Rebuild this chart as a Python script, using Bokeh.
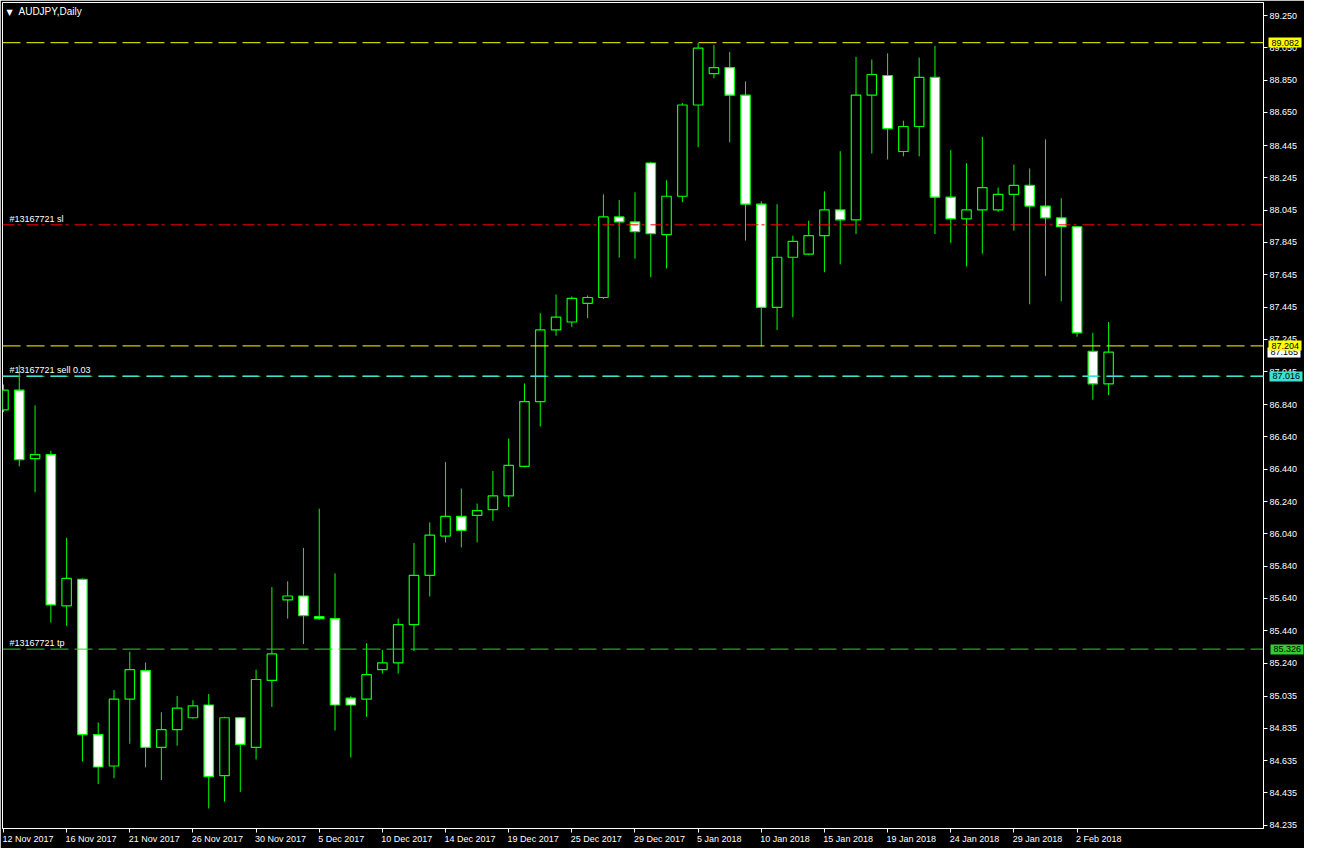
from bokeh.plotting import figure
from bokeh.models import (Range1d, FixedTicker, Label, Span, ColumnDataSource,
                          PrintfTickFormatter, LinearAxis)
from bokeh.embed import file_html
from bokeh.resources import INLINE

symbol_title = "AUDJPY,Daily"

dates = [
    "12 Nov 2017", "13 Nov 2017", "14 Nov 2017", "15 Nov 2017", "16 Nov 2017", "17 Nov 2017",
    "19 Nov 2017", "20 Nov 2017", "21 Nov 2017", "22 Nov 2017", "23 Nov 2017", "24 Nov 2017",
    "26 Nov 2017", "27 Nov 2017", "28 Nov 2017", "29 Nov 2017", "30 Nov 2017", "1 Dec 2017",
    "3 Dec 2017", "4 Dec 2017", "5 Dec 2017", "6 Dec 2017", "7 Dec 2017", "8 Dec 2017",
    "10 Dec 2017", "11 Dec 2017", "12 Dec 2017", "13 Dec 2017", "14 Dec 2017", "15 Dec 2017",
    "17 Dec 2017", "18 Dec 2017", "19 Dec 2017", "20 Dec 2017", "21 Dec 2017", "22 Dec 2017",
    "25 Dec 2017", "26 Dec 2017", "27 Dec 2017", "28 Dec 2017", "29 Dec 2017",
    "2 Jan 2018", "3 Jan 2018", "4 Jan 2018", "5 Jan 2018",
    "7 Jan 2018", "8 Jan 2018", "9 Jan 2018", "10 Jan 2018", "11 Jan 2018", "12 Jan 2018",
    "14 Jan 2018", "15 Jan 2018", "16 Jan 2018", "17 Jan 2018", "18 Jan 2018", "19 Jan 2018",
    "21 Jan 2018", "22 Jan 2018", "23 Jan 2018", "24 Jan 2018", "25 Jan 2018", "26 Jan 2018",
    "28 Jan 2018", "29 Jan 2018", "30 Jan 2018", "31 Jan 2018", "1 Feb 2018", "2 Feb 2018",
    "4 Feb 2018", "5 Feb 2018",
]

opens = [86.808, 86.930, 86.506, 86.531, 85.594, 85.758, 84.797, 84.602, 85.016, 85.193,
         84.718, 84.828, 84.901, 84.980, 84.542, 84.901, 84.718, 85.132, 85.631, 85.655,
         85.527, 85.515, 85.022, 85.016, 85.199, 85.241, 85.478, 85.783, 86.026, 86.148,
         86.154, 86.190, 86.275, 86.458, 86.859, 87.303, 87.352, 87.468, 87.504, 88.003,
         87.972, 88.337, 87.893, 88.131, 88.696, 88.891, 88.928, 88.757, 88.082, 87.443,
         87.753, 87.772, 87.887, 88.046, 87.985, 88.757, 88.879, 88.408, 88.563, 88.867,
         88.125, 87.991, 88.046, 88.046, 88.143, 88.198, 88.070, 87.997, 87.942, 87.170,
         86.969]
highs = [86.965, 87.086, 86.835, 86.555, 86.016, 85.764, 84.872, 85.073, 85.310, 85.243,
         84.935, 85.036, 85.010, 85.048, 84.907, 84.905, 85.199, 85.710, 85.746, 85.953,
         86.196, 85.795, 85.034, 85.363, 85.320, 85.515, 85.983, 86.111, 86.484, 86.320,
         86.228, 86.429, 86.630, 86.971, 87.407, 87.522, 87.510, 87.516, 88.143, 88.108,
         88.155, 88.344, 88.230, 88.709, 89.080, 89.067, 89.025, 88.842, 88.100, 88.082,
         87.887, 87.979, 88.161, 88.410, 88.994, 88.978, 89.016, 88.599, 88.990, 89.063,
         88.417, 88.335, 88.499, 88.185, 88.327, 88.303, 88.483, 88.119, 87.948, 87.285,
         87.352]
lows = [86.794, 86.458, 86.297, 85.491, 85.470, 84.630, 84.491, 84.527, 84.740, 84.594,
        84.515, 84.728, 84.895, 84.339, 84.381, 84.442, 84.643, 84.968, 85.515, 85.357,
        85.507, 84.822, 84.655, 84.907, 85.175, 85.175, 85.314, 85.652, 85.987, 85.956,
        85.987, 86.121, 86.206, 86.452, 86.705, 87.267, 87.322, 87.376, 87.495, 87.751,
        87.745, 87.629, 87.684, 88.094, 88.435, 88.861, 88.465, 87.857, 87.200, 87.303,
        87.382, 87.766, 87.660, 87.709, 87.897, 88.396, 88.359, 88.378, 88.378, 87.897,
        87.842, 87.696, 87.775, 88.034, 87.918, 87.462, 87.638, 87.480, 87.261, 86.871,
        86.899]
closes = [86.930, 86.500, 86.531, 85.600, 85.764, 84.797, 84.596, 85.016, 85.199, 84.718,
          84.828, 84.961, 84.974, 84.536, 84.901, 84.736, 85.138, 85.296, 85.655, 85.533,
          85.515, 84.980, 84.980, 85.168, 85.241, 85.478, 85.783, 86.032, 86.148, 86.062,
          86.184, 86.275, 86.464, 86.859, 87.303, 87.382, 87.498, 87.504, 88.003, 87.972,
          87.912, 87.900, 88.131, 88.696, 89.049, 88.928, 88.757, 88.082, 87.443, 87.753,
          87.851, 87.887, 88.046, 87.985, 88.757, 88.885, 88.550, 88.563, 88.867, 88.125,
          87.991, 88.046, 88.185, 88.143, 88.198, 88.070, 87.997, 87.942, 87.285, 86.969,
          87.165]

# order / level lines
order_id = "#13167721"
sell_lots = "0.03"
sl_price = 87.954
entry_price = 87.016
tp_price = 85.326
upper_level = 89.082
lower_level = 87.204
bid_price = 87.165

# right axis tick labels
y_ticks = [89.250, 89.050, 88.850, 88.650, 88.445, 88.245, 88.045, 87.845, 87.645, 87.445,
           87.245, 87.045, 86.840, 86.640, 86.440, 86.240, 86.040, 85.840, 85.640, 85.440,
           85.240, 85.035, 84.835, 84.635, 84.435, 84.235]
x_tick_step = 4

# view window (price/bars shown)
y_lo, y_hi = 84.215, 89.331
x_lo, x_hi = -0.0625, 79.81

GREEN = "#00ff00"
FONT = "Liberation Sans"
FS = 9  # px

W, H = 1304, 848
BL, BR, BT, BB = 2, 37, 2, 20
p = figure(width=W, height=H, output_backend="svg", toolbar_location=None,
           x_range=Range1d(x_lo, x_hi), y_range=Range1d(y_lo, y_hi),
           y_axis_location="right",
           background_fill_color="black", border_fill_color="black",
           min_border_left=BL, min_border_top=BT, min_border_right=BR, min_border_bottom=BB)
p.outline_line_color = "white"
p.outline_line_width = 1
p.grid.visible = False

xs = list(range(len(opens)))
src = ColumnDataSource(dict(
    x=xs, open=opens, high=highs, low=lows, close=closes,
    top=[max(o, c) for o, c in zip(opens, closes)],
    bottom=[min(o, c) for o, c in zip(opens, closes)],
    fill=["black" if c > o else "white" for o, c in zip(opens, closes)],
))

# level lines
p.add_layout(Span(location=upper_level, dimension="width", line_color="#ffff00",
                  line_dash="18 6", line_width=1))
p.add_layout(Span(location=sl_price, dimension="width", line_color="#ff0000",
                  line_dash="12 3 3 6", line_width=1))
p.add_layout(Span(location=lower_level, dimension="width", line_color="#ffff00",
                  line_dash="18 6", line_width=1))
p.add_layout(Span(location=entry_price, dimension="width", line_color="#32cd32",
                  line_dash="18 6", line_width=1))
p.add_layout(Span(location=entry_price, dimension="width", line_color="#40e0d0",
                  line_dash="16 8", line_width=1.5))
p.add_layout(Span(location=tp_price, dimension="width", line_color="#32cd32",
                  line_dash="18 6", line_width=1))

# candles
p.segment(x0="x", y0="low", x1="x", y1="high", source=src, line_color=GREEN, line_width=1)
p.vbar(x="x", width=0.6, top="top", bottom="bottom", source=src,
       fill_color="fill", line_color=GREEN, line_width=1.2)

# price axis (right)
ya = p.yaxis[0]
ya.ticker = FixedTicker(ticks=y_ticks)
ya.formatter = PrintfTickFormatter(format="%.3f")
ya.axis_line_color = "white"
ya.major_tick_line_color = "white"
ya.major_tick_out = 4
ya.major_tick_in = 0
ya.minor_tick_out = 0
ya.minor_tick_in = 0
ya.major_label_text_color = "white"
ya.major_label_text_font = FONT
ya.major_label_text_font_size = f"{FS}px"
ya.major_label_standoff = 2

# price tags: extra right axes whose thick ticks make the coloured boxes
for levels, bg in [([bid_price], "#ffffff"), ([upper_level, lower_level], "#ffff00"),
                   ([entry_price], "#40e0d0"), ([tp_price], "#32cd32")]:
    tag = LinearAxis(ticker=FixedTicker(ticks=levels),
                     formatter=PrintfTickFormatter(format="%.3f"),
                     axis_line_color=None,
                     major_tick_in=33, major_tick_out=0,
                     major_tick_line_width=10, major_tick_line_color=bg,
                     minor_tick_in=0, minor_tick_out=0,
                     major_label_standoff=-30,
                     major_label_text_color="black",
                     major_label_text_font=FONT,
                     major_label_text_font_size=f"{FS}px")
    p.add_layout(tag, "right")

# time axis: tick marks at every 4th bar
xa = p.xaxis[0]
xt = list(range(0, len(dates), x_tick_step))
xa.ticker = FixedTicker(ticks=xt)
xa.major_label_overrides = {i: "" for i in xt}
xa.major_label_text_font_size = "0px"
xa.major_label_standoff = 0
xa.axis_line_color = "white"
xa.major_tick_line_color = "white"
xa.major_tick_out = 4
xa.major_tick_in = 0
xa.minor_tick_out = 0
xa.minor_tick_in = 0

# date labels: second axis whose labels start at the tick (MT4 style, left aligned)
CW = {c: 0.556 for c in "0123456789"}
CW.update({" ": 0.278, "N": 0.722, "o": 0.556, "v": 0.5, "D": 0.722, "e": 0.556, "c": 0.5,
           "J": 0.5, "a": 0.556, "n": 0.556, "F": 0.611, "b": 0.556})
ppx = (W - BL - BR) / (x_hi - x_lo)
label_pos = [round(i + sum(CW.get(ch, 0.556) for ch in dates[i]) * FS / 2 / ppx - 1 / ppx, 4)
             for i in xt]
da = LinearAxis(ticker=FixedTicker(ticks=label_pos),
                major_label_overrides={pos: dates[i] for pos, i in zip(label_pos, xt)},
                axis_line_color=None, major_tick_in=0, major_tick_out=0,
                minor_tick_in=0, minor_tick_out=0, major_label_standoff=1,
                major_label_text_color="white", major_label_text_font=FONT,
                major_label_text_font_size=f"{FS}px")
p.add_layout(da, "below")

# title
p.add_layout(Label(x=x_lo, y=y_hi, text="\u25bc", x_offset=4, y_offset=-5,
                   text_align="left", text_baseline="top", text_color="white",
                   text_font="DejaVu Sans", text_font_size="8px"))
p.add_layout(Label(x=x_lo, y=y_hi, text=symbol_title, x_offset=16, y_offset=-3,
                   text_align="left", text_baseline="top", text_color="white",
                   text_font=FONT, text_font_size="10px"))

# order line labels
for txt, lvl in [(f"{order_id} sl", sl_price), (f"{order_id} sell {sell_lots}", entry_price),
                 (f"{order_id} tp", tp_price)]:
    p.add_layout(Label(x=x_lo, y=lvl, text=txt, x_offset=7, y_offset=1,
                       text_align="left", text_baseline="bottom", text_color="white",
                       text_font=FONT, text_font_size=f"{FS}px"))

open("out.html", "w").write(file_html(p, INLINE))
